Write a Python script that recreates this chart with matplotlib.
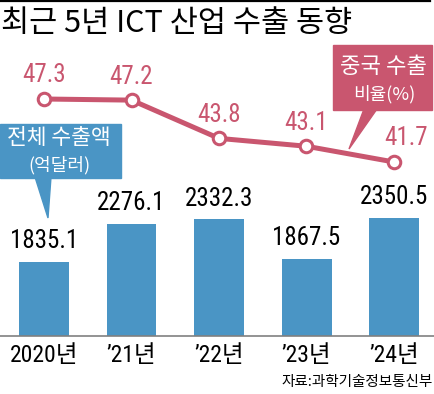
import matplotlib.pyplot as plt
import numpy as np
from matplotlib.patches import Rectangle, Polygon

# data
years = ['2020년', '’21년', '’22년', '’23년', '’24년']
total_exports = [1835.1, 2276.1, 2332.3, 1867.5, 2350.5]   # 억달러
china_share = [47.3, 47.2, 43.8, 43.1, 41.7]               # %

BLUE = '#4A95C5'
PINK = '#C9566F'
FONTS = ['Roboto Condensed', 'Liberation Sans Narrow', 'Noto Sans CJK KR', 'DejaVu Sans']
KR = ['Noto Sans CJK KR', 'DejaVu Sans']
plt.rcParams['font.family'] = FONTS

W, H = 435, 394
fig = plt.figure(figsize=(W / 100, H / 100), dpi=100)

# bar axes: baseline at y=336px, top at y=40px
base_px, top_px = 336, 40
ax = fig.add_axes([0, 1 - base_px / H, 1, (base_px - top_px) / H])
x = np.arange(len(years))
step = 87.5
ax.set_xlim(-44 / step, (W - 44) / step)
v0, ppu = 960, 0.085
ax.set_ylim(v0, v0 + (base_px - top_px) / ppu)

ax.bar(x, total_exports, width=50 / step, color=BLUE, zorder=2)
for xi, v in zip(x, total_exports):
    ax.annotate(f'{v:.1f}', (xi, v), xytext=(0, 15), textcoords='offset points',
                ha='center', va='center', fontsize=18, color='black')

for s in ['top', 'left', 'right']:
    ax.spines[s].set_visible(False)
ax.spines['bottom'].set_color('#808080')
ax.spines['bottom'].set_linewidth(1.2)
ax.set_yticks([])
ax.set_xticks(x, years)
ax.tick_params(axis='x', length=0, pad=6, labelsize=17)

# line on twin axis
ax2 = ax.twinx()
ax2.set_ylim(47.3 - (base_px - 99) / 11.25, 47.3 + (99 - top_px) / 11.25)
ax2.plot(x, china_share, color=PINK, lw=3.6, marker='o', ms=9,
         mfc='white', mec=PINK, mew=2.2, zorder=3)
for i, (xi, v) in enumerate(zip(x, china_share)):
    dx = 9 if i == len(x) - 1 else 0
    ax2.annotate(f'{v:.1f}', (xi, v), xytext=(dx, 17), textcoords='offset points',
                 ha='center', va='center', fontsize=18, color=PINK)
ax2.axis('off')

# overlay in pixel coordinates for title and callouts
ov = fig.add_axes([0, 0, 1, 1], zorder=5)
ov.set_xlim(0, W)
ov.set_ylim(H, 0)
ov.axis('off')

ov.plot([0, 430], [0.8, 0.8], color='black', lw=1.6)
ov.text(1, 23, '최근 5년 ICT 산업 수출 동향', fontsize=22, ha='left', va='center', family=KR)

# blue callout
ov.add_patch(Rectangle((0, 124), 121, 54, color=BLUE))
ov.add_patch(Polygon([(35, 177), (51, 177), (48, 218)], color=BLUE))
ov.text(59, 138, '전체 수출액', fontsize=15.5, color='white', ha='center', va='center', family=KR)
ov.text(59, 165, '(억달러)', fontsize=13, color='white', ha='center', va='center', family=KR)

# pink callout
ov.add_patch(Rectangle((333, 45), 99, 65, color=PINK))
ov.add_patch(Polygon([(364, 109), (377, 109), (349, 149)], color=PINK))
ov.text(384, 66, '중국 수출', fontsize=16, color='white', ha='center', va='center', family=KR)
ov.text(384, 94, '비율(%)', fontsize=13, color='white', ha='center', va='center', family=KR)

ov.text(433, 382, '자료:과학기술정보통신부', fontsize=10.5, ha='right', va='center', family=KR)

fig.savefig('out.png', dpi=100)
